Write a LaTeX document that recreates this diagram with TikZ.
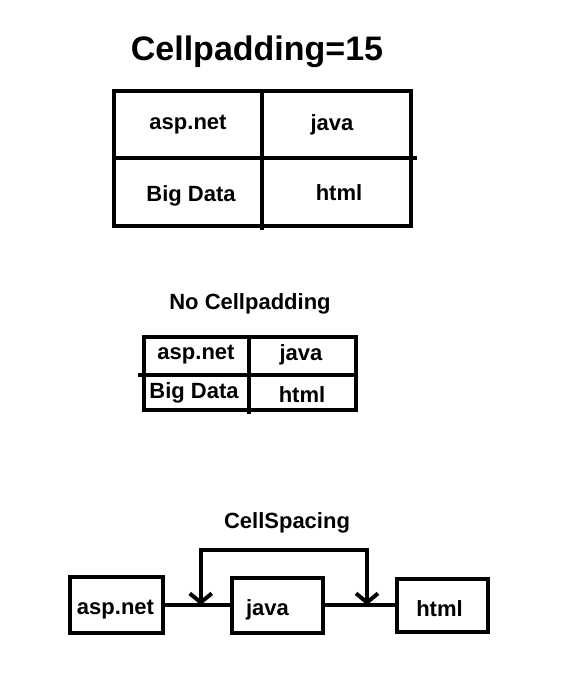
\documentclass[tikz,border=0pt]{standalone}
\usepackage{fontspec}
\setmainfont{Liberation Sans}
\usetikzlibrary{arrows.meta, positioning, calc}
\tikzstyle{heading} = [font=\fontsize{22}{26}\selectfont\bfseries, inner sep=0pt]
\tikzstyle{cell} = [font=\fontsize{22}{26}\selectfont\bfseries, inner sep=0pt, yshift=-3pt]
\tikzstyle{grid} = [line width=4pt]
\tikzstyle{box} = [rectangle, draw=black, line width=4pt, minimum width=91pt, minimum height=55pt]
\tikzstyle{arrow} = [line width=4pt, {Straight Barb[length=9pt,width=22pt]}-{Straight Barb[length=9pt,width=22pt]}]

\begin{document}
\begin{tikzpicture}[x=1pt, y=-1pt, node distance=65pt]
\useasboundingbox (0,0) rectangle (583,678);

% Tabela com cellpadding
\node (padtitle) [heading, font=\fontsize{34}{40}\selectfont\bfseries] at (257,52) {Cellpadding=15};
\draw [grid] (114,91) rectangle (411,226);
\draw [grid] (262,91) -- (262,230);
\draw [grid] (114,158) -- (417,158);
\node (padA) [cell] at (188,122) {asp.net};
\node (padB) [cell] at (332,122) {java};
\node (padC) [cell] at (191,193) {Big Data};
\node (padD) [cell] at (339,190) {html};

% Tabela sem cellpadding
\node (nopadtitle) [heading] at (250,304) {No Cellpadding};
\draw [grid] (144,337) rectangle (356,410);
\draw [grid] (249,337) -- (249,414);
\draw [grid] (138,375) -- (356,375);
\node (nopadA) [cell] at (196,352) {asp.net};
\node (nopadB) [cell] at (301,352) {java};
\node (nopadC) [cell] at (194,390) {Big Data};
\node (nopadD) [cell] at (302,392) {html};

% Cellspacing
\node (spacetitle) [heading] at (287,523) {CellSpacing};
\node (asp)  [box, minimum width=93pt, minimum height=56pt, label={[cell, xshift=-1pt, yshift=-2pt]center:asp.net}] at (116.5,605) {};
\node (java) [box, right=65pt of asp, label={[cell, xshift=-10pt, yshift=-2pt]center:java}] {};
\node (html) [box, right=70pt of java, minimum height=53pt, label={[cell, xshift=-3pt, yshift=-1pt]center:html}] {};

\draw [grid] (asp) -- (java);
\draw [grid] (java) -- (html);

\coordinate (gapA) at ($(asp.east)!0.55!(java.west)$);
\coordinate (gapB) at ($(java.east)!0.6!(html.west)$);
\draw [arrow] (gapA) -- ++(0,-55) -| (gapB);

\end{tikzpicture}
\end{document}
